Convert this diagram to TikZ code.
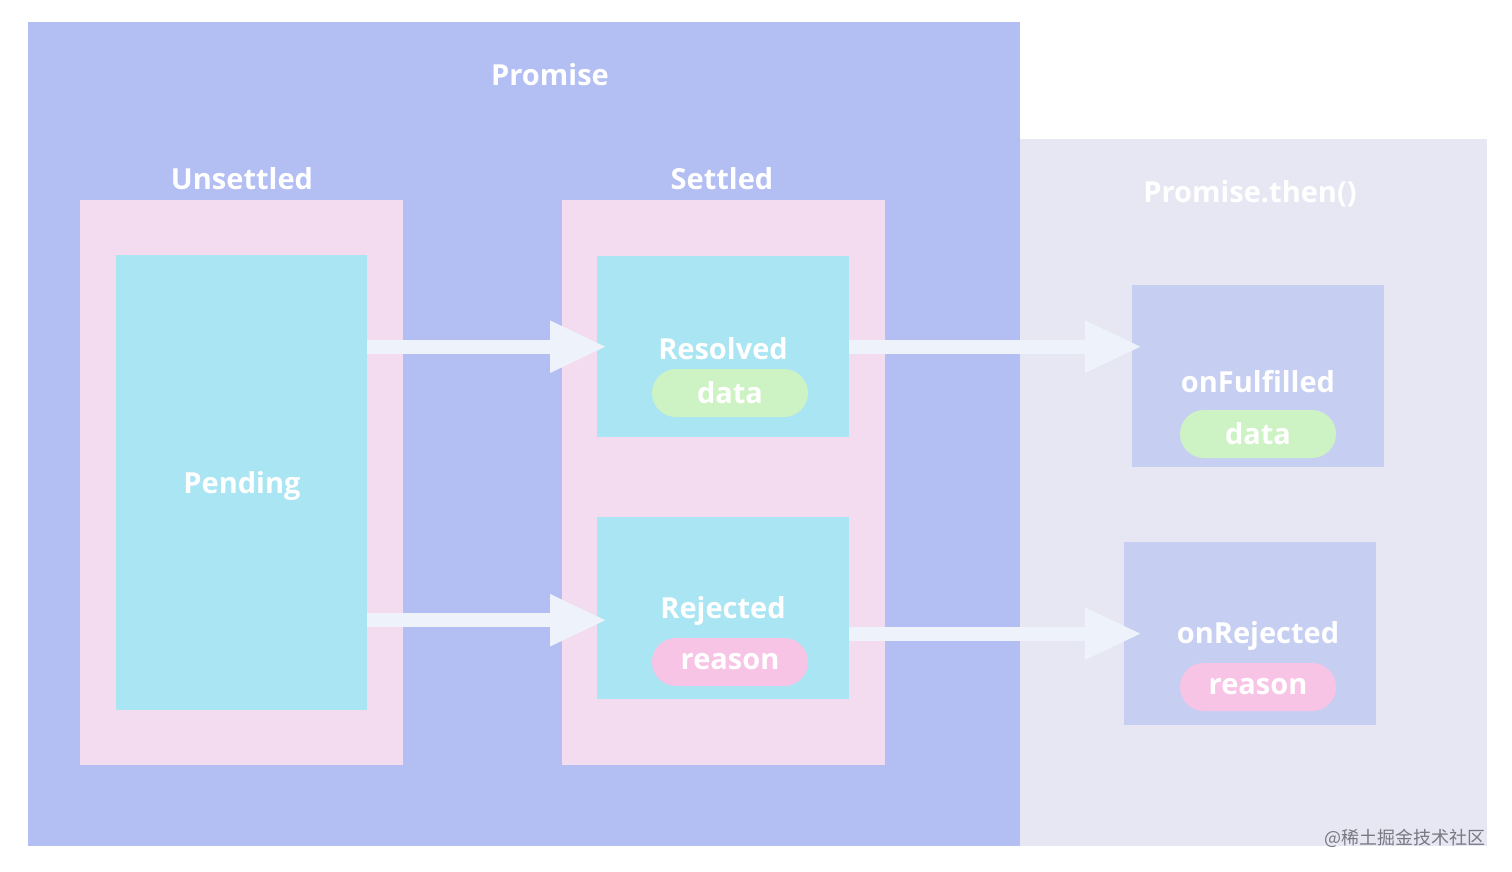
\documentclass[tikz,border=0pt]{standalone}
\usepackage{fontspec}
\setmainfont{Open Sans}
\newfontfamily\cjkfont{Noto Sans CJK SC}
\usetikzlibrary{arrows.meta, positioning}
\definecolor{promisebg}{RGB}{179, 190, 243}
\definecolor{thenbg}{RGB}{230, 231, 242}
\definecolor{statebg}{RGB}{243, 219, 240}
\definecolor{statefill}{RGB}{169, 229, 242}
\definecolor{handlerfill}{RGB}{198, 207, 242}
\definecolor{datapill}{RGB}{205, 242, 196}
\definecolor{reasonpill}{RGB}{248, 196, 230}
\definecolor{flowarrow}{RGB}{238, 243, 251}
\definecolor{watermark}{RGB}{120, 120, 128}

\begin{document}
\begin{tikzpicture}[x=1pt, y=-1pt]%
        \tikzstyle{box} = [anchor=north west, inner sep=0pt, draw=none]
        \tikzstyle{label} = [text=white, font=\bfseries\fontsize{29}{34}\selectfont]
        \tikzstyle{pill} = [label, rounded corners=24pt, minimum width=156pt, minimum height=48pt, inner sep=0pt]
        \tikzstyle{flow} = [-{Triangle[length=57pt, width=48pt]}, flowarrow, line width=14pt]

        \useasboundingbox (0,0) rectangle (1512,872);

        % backgrounds
        \node[box, fill=promisebg, minimum width=992pt, minimum height=824pt] (promise) at (28,22) {};
        \node[box, fill=thenbg, minimum width=467pt, minimum height=707pt] (then) at (1020,139) {};
        \node[box, fill=statebg, minimum width=323pt, minimum height=565pt] (unsettled) at (80,200) {};
        \node[box, fill=statebg, minimum width=323pt, minimum height=565pt] (settled) at (562,200) {};

        \node[label] at (550,75) {Promise};
        \node[label] at (242,179) {Unsettled};
        \node[label] at (722,179) {Settled};
        \node[label] at (1250,194) {Promise.then()};

        % states
        \node[box, fill=statefill, minimum width=251pt, minimum height=455pt] (pending) at (116,255) {};
        \node[box, fill=statefill, minimum width=252pt, minimum height=181pt] (resolved) at (597,256) {};
        \node[box, fill=statefill, minimum width=252pt, minimum height=182pt] (rejected) at (597,517) {};
        \node[label] at (242,486) {Pending};
        \node[label] at (723,349) {Resolved};
        \node[pill, fill=datapill] (resdata) at (730,393) {data};
        \node[label] at (723,611) {Rejected};
        \node[pill, fill=reasonpill] (rejreason) at (730,662) {reason};

        % handlers
        \node[box, fill=handlerfill, minimum width=252pt, minimum height=182pt] (onful) at (1132,285) {};
        \node[box, fill=handlerfill, minimum width=252pt, minimum height=183pt] (onrej) at (1124,542) {};
        \node[label] at (1258,382) {onFulfilled};
        \node[pill, fill=datapill] (fuldata) at (1258,434) {data};
        \node[label] at (1258,636) {onRejected};
        \node[pill, fill=reasonpill] (rejdata) at (1258,687) {reason};

        \draw[flow, shorten >=-10pt] (pending.east |- resolved.west) -- (resolved.west);
        \draw[flow, shorten >=-10pt] ([yshift=-12pt]pending.east |- rejected.west) -- ([yshift=-12pt]rejected.west);
        \draw[flow, shorten >=-10pt] (resolved.east) -- (onful.west |- resolved.east);
        \draw[flow, shorten >=-18pt] (rejected.east |- onrej.west) -- (onrej.west);

        \node[text=watermark, font=\cjkfont\fontsize{18}{21}\selectfont, anchor=east] (mark) at (1489,838) {@稀土掘金技术社区};
      \end{tikzpicture}
\end{document}
